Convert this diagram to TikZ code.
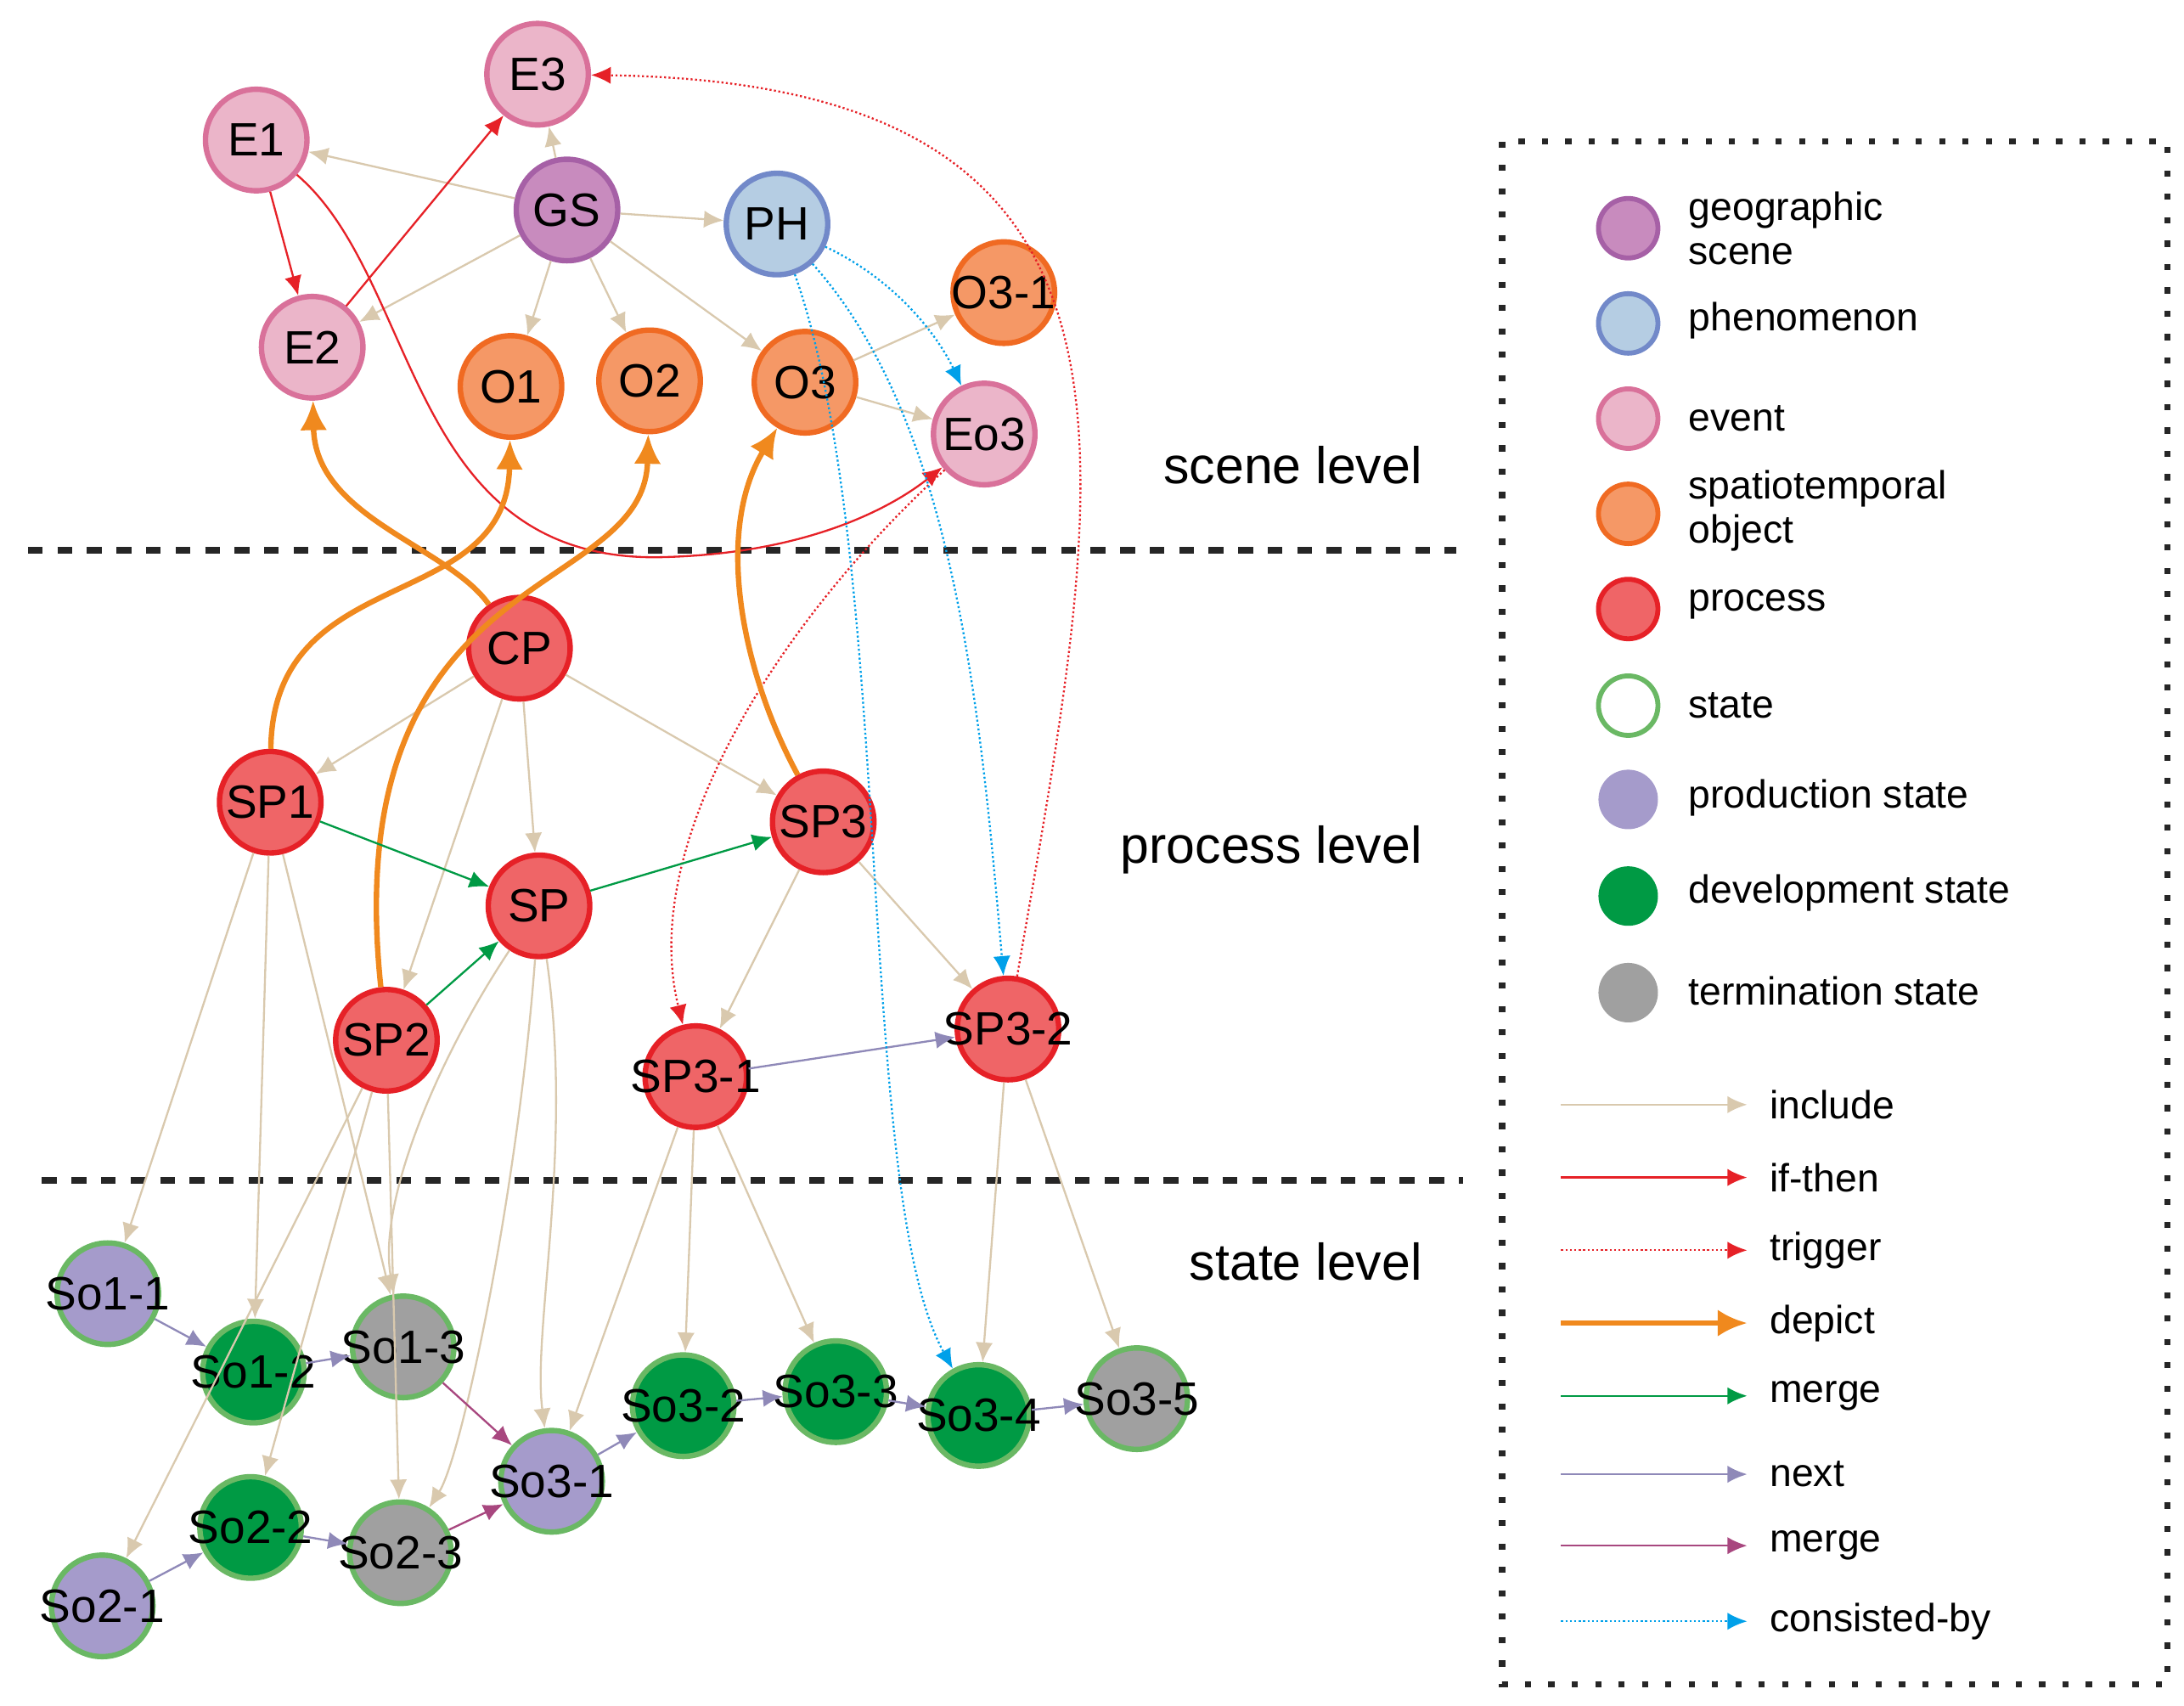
\documentclass[tikz,border=0pt]{standalone}
\usepackage{fontspec}
\setmainfont{Liberation Sans}
\usetikzlibrary{arrows.meta,positioning}
\definecolor{incl}{HTML}{D9C9AE}
\definecolor{ifred}{HTML}{E62127}
\definecolor{dep}{HTML}{F0891E}
\definecolor{mrg}{HTML}{009A44}
\definecolor{nxt}{HTML}{8F89B8}
\definecolor{mrg2}{HTML}{A8477F}
\definecolor{cons}{HTML}{00A0E9}
\definecolor{gsF}{HTML}{C88BBE}\definecolor{gsD}{HTML}{A660A6}
\definecolor{phF}{HTML}{B5CDE3}\definecolor{phD}{HTML}{7289C9}
\definecolor{evF}{HTML}{EBB5C9}\definecolor{evD}{HTML}{D9719A}
\definecolor{obF}{HTML}{F59866}\definecolor{obD}{HTML}{F06A22}
\definecolor{prF}{HTML}{EF6567}\definecolor{prD}{HTML}{E62127}
\definecolor{stD}{HTML}{6AB864}
\definecolor{saF}{HTML}{A59BCB}\definecolor{sbF}{HTML}{009A44}\definecolor{scF}{HTML}{A0A0A0}
\tikzset{
  nd/.style={circle,line width=2.2pt,minimum size=1.45cm,inner sep=0pt,font=\fontsize{19}{20}\selectfont},
  gs/.style={nd,fill=gsF,draw=gsD},
  ph/.style={nd,fill=phF,draw=phD},
  ev/.style={nd,fill=evF,draw=evD},
  ob/.style={nd,fill=obF,draw=obD},
  pr/.style={nd,fill=prF,draw=prD},
  st/.style={nd,draw=stD},
  sa/.style={st,fill=saF},
  sb/.style={st,fill=sbF},
  sc/.style={st,fill=scF},
  include/.style={->,incl,line width=0.8pt},
  ifthen/.style={->,ifred,line width=0.8pt},
  trigger/.style={->,ifred,line width=0.8pt,densely dotted},
  depict/.style={->,dep,line width=2.2pt,>={Latex[length=12pt,width=11pt]}},
  merge/.style={->,mrg,line width=0.8pt},
  next/.style={->,nxt,line width=0.8pt},
  mergeb/.style={->,mrg2,line width=0.8pt},
  consist/.style={->,cons,line width=0.8pt,densely dotted},
  lvl/.style={anchor=east,font=\fontsize{21}{24}\selectfont},
  lg/.style={anchor=west,font=\fontsize{16}{18}\selectfont,align=left},
  ld/.style={circle,minimum size=0.85cm,inner sep=0pt,line width=2pt},
}
\begin{document}
\begin{tikzpicture}[x=0.02cm,y=-0.02cm,>={Latex[length=8pt,width=7pt]}]
\useasboundingbox (0,0) rectangle (1560,1218);
% levels
\draw[line width=2.5pt,dash pattern=on 6pt off 6pt,black!85] (20,393) -- (1040,393);
\draw[line width=2.5pt,dash pattern=on 6pt off 6pt,black!85] (30,843) -- (1045,843);
\node[lvl] (lscene) at (1022,332) {scene level};
\node[lvl] (lproc) at (1022,607) {process level};
\node[lvl] (lstate) at (1022,901) {state level};
% scene level
\node[ev] (E3) at (384,53) {E3};
\node[ev] (E1) at (183,100) {E1};
\node[gs] (GS) at (405,150) {GS};
\node[ph] (PH) at (555,160) {PH};
\node[ev] (E2) at (223,248) {E2};
\node[ob] (O1) at (365,276) {O1};
\node[ob] (O2) at (464,272) {O2};
\node[ob] (O3) at (575,273) {O3};
\node[ob] (O31) at (717,209) {\clap{O3-1}};
\node[ev] (Eo3) at (703,310) {Eo3};
% process level
\node[pr] (CP) at (371,463) {CP};
\node[pr] (SP1) at (193,573) {SP1};
\node[pr] (SP3) at (588,587) {SP3};
\node[pr] (SP) at (385,647) {SP};
\node[pr] (SP2) at (276,743) {SP2};
\node[pr] (SP31) at (497,769) {\clap{SP3-1}};
\node[pr] (SP32) at (720,735) {\clap{SP3-2}};
% state level
\node[sa] (So11) at (77,924) {\clap{So1-1}};
\node[sb] (So12) at (181,980) {\clap{So1-2}};
\node[sc] (So13) at (288,962) {\clap{So1-3}};
\node[sa] (So31) at (394,1058) {\clap{So3-1}};
\node[sb] (So32) at (488,1004) {\clap{So3-2}};
\node[sb] (So33) at (597,994) {\clap{So3-3}};
\node[sb] (So34) at (699,1011) {\clap{So3-4}};
\node[sc] (So35) at (812,999) {\clap{So3-5}};
\node[sa] (So21) at (73,1147) {\clap{So2-1}};
\node[sb] (So22) at (179,1091) {\clap{So2-2}};
\node[sc] (So23) at (286,1109) {\clap{So2-3}};
% include
\foreach \a/\b in {GS/E1,GS/E3,GS/PH,GS/E2,GS/O1,GS/O2,GS/O3,O3/O31,O3/Eo3,
  CP/SP1,CP/SP,CP/SP3,CP/SP2,SP1/So11,SP1/So12,SP1/So13,SP2/So21,SP2/So22,SP2/So23,
  SP3/SP31,SP3/SP32,SP31/So31,SP31/So32,SP31/So33,SP32/So34,SP32/So35}
  \draw[include] (\a) -- (\b);
\draw[include] (SP) .. controls (310,760) and (270,860) .. (So13);
\draw[include] (SP) .. controls (410,820) and (380,950) .. (So31);
\draw[include] (SP) .. controls (370,850) and (330,1040) .. (So23);
% if-then
\draw[ifthen] (E1) -- (E2);
\draw[ifthen] (E2) -- (E3);
\draw[ifthen] (E1) .. controls (300,200) and (290,400) .. (470,398) .. controls (580,396) and (640,360) .. (Eo3);
% trigger
\draw[trigger] (SP32) .. controls (790,330) and (850,60) .. (E3);
\draw[trigger] (Eo3) .. controls (560,440) and (455,600) .. (SP31);
% depict
\draw[depict] (CP) .. controls (320,390) and (225,370) .. (E2);
\draw[depict] (SP1) .. controls (195,400) and (362,440) .. (O1);
\draw[depict] (SP2) .. controls (240,400) and (460,430) .. (O2);
\draw[depict] (SP3) .. controls (530,480) and (510,380) .. (O3);
% merge
\draw[merge] (SP1) -- (SP);
\draw[merge] (SP2) -- (SP);
\draw[merge] (SP) -- (SP3);
% next
\foreach \a/\b in {So11/So12,So12/So13,SP31/SP32,So21/So22,So22/So23,So31/So32,So32/So33,So33/So34,So34/So35}
  \draw[next] (\a) -- (\b);
\draw[mergeb] (So13) -- (So31);
\draw[mergeb] (So23) -- (So31);
% consisted-by
\draw[consist] (PH) .. controls (640,200) and (670,240) .. (Eo3);
\draw[consist] (PH) .. controls (680,300) and (700,500) .. (SP32);
\draw[consist] (PH) .. controls (640,400) and (610,850) .. (So34);
% legend
\draw[line width=2.5pt,dash pattern=on 2.5pt off 7pt,black!85] (1073,101) rectangle (1548,1203);
\node[ld,fill=gsF,draw=gsD] (k1) at (1163,163) {};
\node[lg] at (1200,163) {geographic\\scene};
\node[ld,fill=phF,draw=phD] (k2) at (1163,231) {};
\node[lg] at (1200,229) {phenomenon};
\node[ld,fill=evF,draw=evD] (k3) at (1163,299) {};
\node[lg] at (1200,299) {event};
\node[ld,fill=obF,draw=obD] (k4) at (1163,367) {};
\node[lg] at (1200,365) {spatiotemporal\\object};
\node[ld,fill=prF,draw=prD] (k5) at (1163,435) {};
\node[lg] at (1200,432) {process};
\node[ld,fill=white,draw=stD] (k6) at (1163,504) {};
\node[lg] at (1200,504) {state};
\node[ld,fill=saF] (k7) at (1163,571) {};
\node[lg] at (1200,570) {production state};
\node[ld,fill=sbF] (k8) at (1163,640) {};
\node[lg] at (1200,638) {development state};
\node[ld,fill=scF] (k9) at (1163,709) {};
\node[lg] at (1200,708) {termination state};
\foreach \y/\s/\t in {789/include/include,841/ifthen/if-then,893/trigger/trigger,945/depict/depict,997/merge/merge,1053/next/next,1104/mergeb/merge,1158/consist/consisted-by}{
  \coordinate (a\y) at (1115,\y);
  \coordinate (b\y) at (1248,\y);
  \draw[\s] (a\y) -- (b\y);
  \node[lg] at (1258,\y) {\t};
}
\end{tikzpicture}
\end{document}
